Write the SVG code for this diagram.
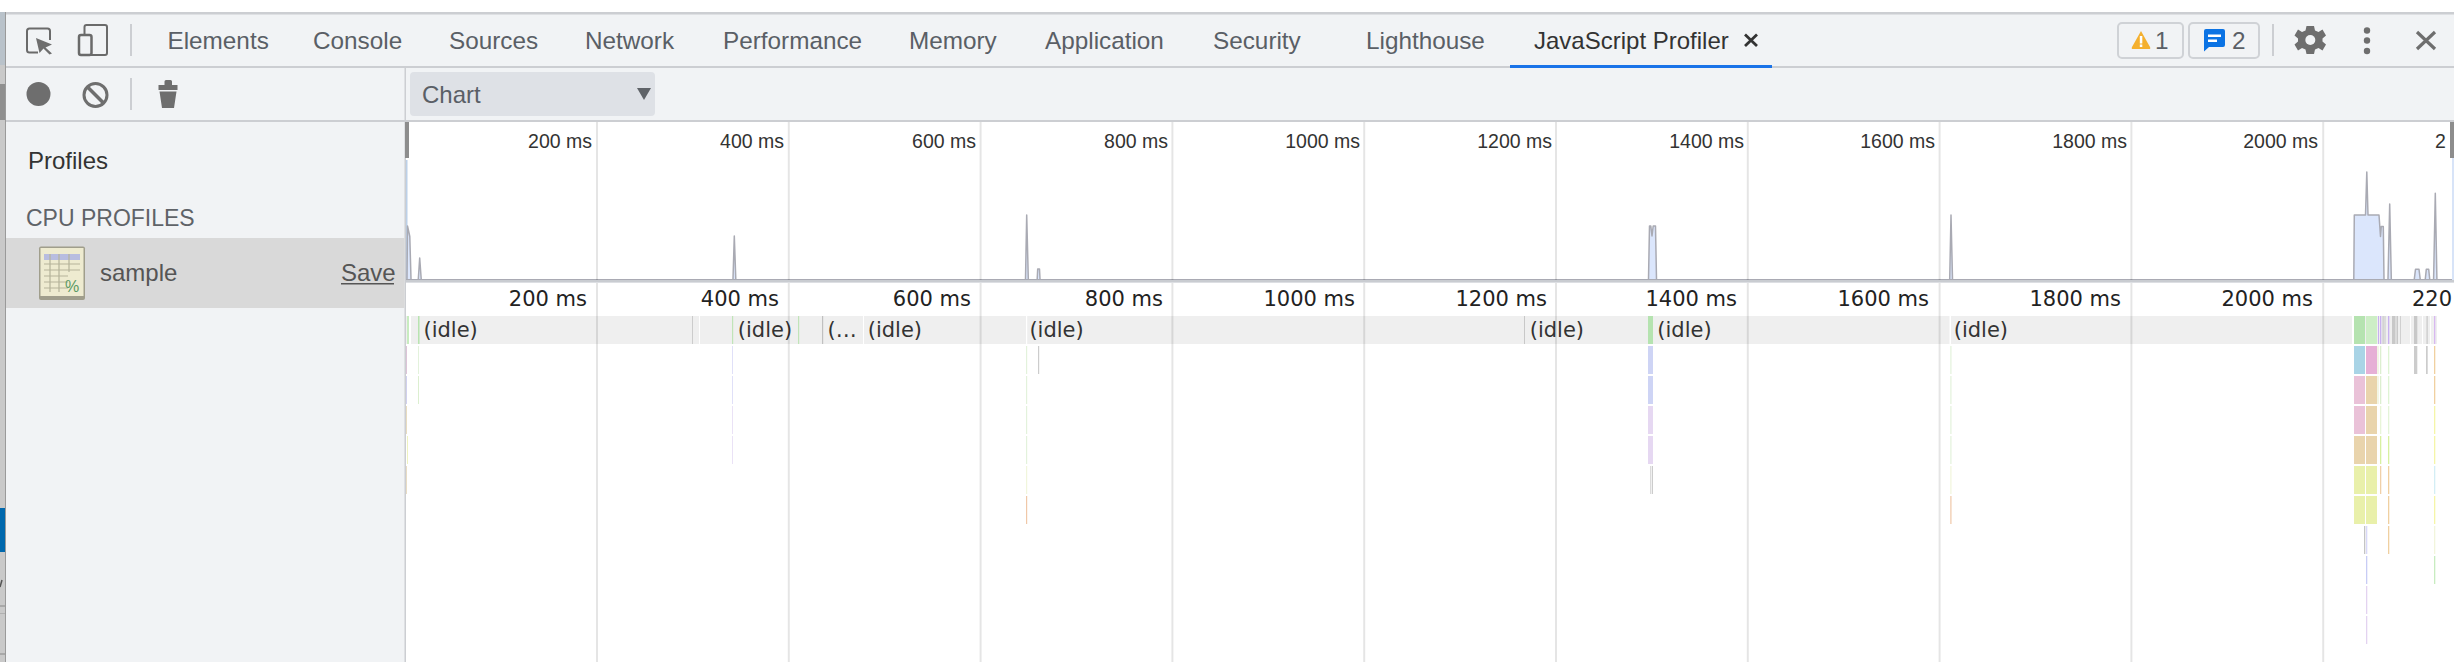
<svg xmlns="http://www.w3.org/2000/svg" width="2454" height="662" viewBox="0 0 2454 662">
<style>
.ui{font-family:"Liberation Sans",Arial,sans-serif}
.tab{font-size:24.3px;fill:#5a5f66}
.hl{font-size:19.5px;fill:#333;text-anchor:end}
.rl{font-family:"DejaVu Sans",sans-serif;font-size:21px;fill:#222;text-anchor:end}
.idle{font-family:"DejaVu Sans",sans-serif;font-size:21px;fill:#333}
.grid{stroke:#000;stroke-opacity:.1;stroke-width:2}
.sep{stroke:#ccced2;stroke-width:2}
.ic{fill:#6e6e6e}
.ov{fill:#dbe6fc;stroke:#a9aab3;stroke-width:1.5;stroke-linejoin:round}
</style>
<rect width="2454" height="662" fill="#fff"/>
<g id="window-edge">
<rect x="0" y="12" width="6" height="53" fill="#b9c2ca"/>
<rect x="0" y="65" width="6" height="597" fill="#c9c9c9"/>
<rect x="0" y="84" width="6" height="36" fill="#8f8f8f"/>
<rect x="0" y="508" width="6" height="44" fill="#0068ad"/>
<rect x="0" y="605" width="6" height="2" fill="#a8a8a8"/>
<rect x="0" y="613" width="6" height="1" fill="#b0b0b0"/>
<rect x="0" y="653" width="6" height="2" fill="#a8a8a8"/>
<path d="M0 587L2 580M4 583" stroke="#555" stroke-width="1.5" fill="none"/>
<rect x="5" y="12" width="1" height="650" fill="#9a9a9a"/>
</g>
<g id="toolbars">
<rect x="6" y="12" width="2448" height="650" fill="#f1f3f5"/>
<rect x="6" y="12" width="2448" height="2.5" fill="#ccced2"/>
<rect x="6" y="66" width="2448" height="2" fill="#ccced2"/>
<rect x="6" y="120" width="2448" height="2" fill="#ccced2"/>
<rect x="404.500" y="68" width="1.500" height="594" fill="#ccced2"/>
</g>
<g id="main-tabs" class="ui">
<path d="M38 52.500H29.500Q27 52.500 27 50V31Q27 28.500 29.500 28.500H47.500Q50 28.500 50 31V40" fill="none" stroke="#6a6a6a" stroke-width="2"/>
<path d="M36 38L52 44.500L45.500 47.500L52 53.500L49.500 54.500L43.500 48.500L39.500 53Z" class="ic"/>
<rect x="84.500" y="25" width="22.500" height="30" rx="2" fill="none" stroke="#6a6a6a" stroke-width="2"/>
<rect x="79" y="35" width="12.500" height="20" rx="2" fill="#f1f3f5" stroke="#6a6a6a" stroke-width="2.500"/>
<line class="sep" x1="131" y1="24" x2="131" y2="56"/>
<text class="tab" x="167.500" y="49">Elements</text>
<text class="tab" x="313" y="49">Console</text>
<text class="tab" x="449" y="49">Sources</text>
<text class="tab" x="585" y="49">Network</text>
<text class="tab" x="723" y="49">Performance</text>
<text class="tab" x="909" y="49">Memory</text>
<text class="tab" x="1045" y="49">Application</text>
<text class="tab" x="1213" y="49">Security</text>
<text class="tab" x="1366" y="49">Lighthouse</text>
<text class="tab" x="1534" y="49" style="fill:#333;font-size:24px">JavaScript Profiler</text>
<path d="M1745 34.500L1757 46M1757 34.500L1745 46" stroke="#333" stroke-width="2.800"/>
<rect x="1510" y="65" width="262" height="3" fill="#1a73e8"/>
</g>
<g id="status-buttons" class="ui">
<rect x="2118" y="23" width="65" height="35" rx="4" fill="#f1f3f5" stroke="#cfd2d6" stroke-width="2"/>
<rect x="2189" y="23" width="70" height="35" rx="4" fill="#f1f3f5" stroke="#cfd2d6" stroke-width="2"/>
<path d="M2141 31L2150 47Q2151 49 2149 49H2133Q2131 49 2132 47Z" fill="#f4b02f"/>
<rect x="2139.800" y="36" width="2.500" height="7.500" fill="#fff"/><rect x="2139.800" y="44.500" width="2.500" height="2.500" fill="#fff"/>
<text class="tab" x="2155" y="49">1</text>
<path d="M2206 29H2223Q2225 29 2225 31V45Q2225 47 2223 47H2209L2204 51.500V31Q2204 29 2206 29Z" fill="#0b73e4"/>
<rect x="2208" y="34.500" width="13" height="2.500" fill="#fff"/><rect x="2208" y="39.500" width="9" height="2.500" fill="#fff"/>
<text class="tab" x="2232" y="49">2</text>
<line class="sep" x1="2273" y1="24" x2="2273" y2="56"/>
<path d="M2306.500 26H2314L2315 30.500L2318.500 32L2322.500 29.500L2326 35.500L2322.500 38.500V41.500L2326 44.500L2322.500 50.500L2318.500 48L2315 49.500L2314 54H2306.500L2305.500 49.500L2302 48L2298 50.500L2294.500 44.500L2298 41.500V38.500L2294.500 35.500L2298 29.500L2302 32L2305.500 30.500Z" class="ic"/>
<circle cx="2310.300" cy="40" r="5" fill="#f1f3f5"/>
<circle cx="2367" cy="30.500" r="3.200" class="ic"/><circle cx="2367" cy="40.500" r="3.200" class="ic"/><circle cx="2367" cy="51" r="3.200" class="ic"/>
<path d="M2417 32L2435 49M2435 32L2417 49" stroke="#6e6e6e" stroke-width="3.200"/>
</g>
<g id="profile-toolbar" class="ui">
<circle cx="38.500" cy="94" r="12" class="ic"/>
<circle cx="95.500" cy="95" r="11.500" fill="none" stroke="#6e6e6e" stroke-width="3"/>
<path d="M87.500 87L103.500 103" stroke="#6e6e6e" stroke-width="3.500"/>
<line class="sep" x1="131" y1="78" x2="131" y2="110"/>
<path d="M158.500 85H164.500V81.500Q164.500 80 166 80H170.500Q172 80 172 81.500V85H177.500V90H158.500ZM159.500 91.500H176.500L174 108H162Z" class="ic"/>
<rect x="410" y="72" width="245" height="44" rx="4" fill="#dee1e6"/>
<text class="tab" x="422" y="103" style="font-size:24px">Chart</text>
<path d="M637 88H651L644 100Z" fill="#5f6368"/>
</g>
<g id="sidebar" class="ui">
<text x="28" y="169" font-size="24" fill="#333">Profiles</text>
<text x="26" y="226" font-size="23" fill="#5f6368">CPU PROFILES</text>
<rect x="6" y="238" width="398.500" height="70" fill="#d9d9d9"/>
<g id="profile-icon">
<rect x="39" y="246.500" width="46" height="53.500" rx="2" fill="#a09e8c"/>
<rect x="40.500" y="248" width="43" height="48" fill="#eeebd0"/>
<rect x="44" y="254" width="36" height="6" fill="#b8bde0"/>
<path d="M44 264H80M44 270H80M44 276H68M44 282H68M44 288H68M50 254V292M59 254V292M69 254V272" stroke="#b5b39a" stroke-width="1.200" fill="none"/>
<text x="65" y="292" font-size="16" fill="#5c9a64">%</text>
</g>
<text x="100" y="281" font-size="24" fill="#555">sample</text>
<text x="341" y="281" font-size="24" fill="#555">Save</text>
<rect x="341" y="283" width="53" height="1.500" fill="#555"/>
</g>
<g id="overview" class="ui">
<rect x="406" y="122" width="2048" height="160" fill="#fff"/>
<rect x="406" y="160" width="1.500" height="120" fill="#bcd0e8"/>
<path class="ov" d="M407 279L407.500 226L409.800 236.500L411 279M418.300 279L419.700 258L421.200 279M733 279L734.300 236L735.800 279M1025.500 279L1026.700 215L1028.300 279M1037.200 279L1037.700 269H1039.500L1040 279M1648.500 279L1649.500 226H1650.800L1652 236L1653.200 226H1655.500L1656.500 279M1949.700 279L1951 215L1952.500 279M2353.800 279L2354.300 215H2365.500L2366.800 172L2368 215H2379L2380.500 236.500L2381.300 226.500H2383.300L2384 279M2388 279L2389.700 204L2391.300 279M2414.300 279L2415.500 269.300H2419L2420.200 279M2425.300 279L2426.300 269.300H2428.700L2429.700 279M2433.600 279L2435.300 193.300L2436.900 279"/>
<rect x="406" y="279" width="2048" height="1.300" fill="#a9aab3"/>
<rect x="406" y="280" width="2048" height="2.500" fill="#c9ccd1"/>
<rect x="405" y="122" width="4" height="36" fill="#8d8d8d"/>
<rect x="2450" y="122" width="4" height="36" fill="#8d8d8d"/>
<rect x="2452" y="158" width="2" height="122" fill="#d8e4f8"/>
<text class="hl" x="592" y="148">200 ms</text>
<text class="hl" x="784" y="148">400 ms</text>
<text class="hl" x="976" y="148">600 ms</text>
<text class="hl" x="1168" y="148">800 ms</text>
<text class="hl" x="1360" y="148">1000 ms</text>
<text class="hl" x="1552" y="148">1200 ms</text>
<text class="hl" x="1744" y="148">1400 ms</text>
<text class="hl" x="1935" y="148">1600 ms</text>
<text class="hl" x="2127" y="148">1800 ms</text>
<text class="hl" x="2318" y="148">2000 ms</text>
<text class="ui" x="2435" y="148" font-size="19.500" fill="#333">2</text>
</g>
<g id="flame-chart">
<rect x="406" y="283" width="2048" height="379" fill="#fff"/>
<g id="ruler">
<text class="rl" x="587" y="306">200 ms</text>
<text class="rl" x="779" y="306">400 ms</text>
<text class="rl" x="971" y="306">600 ms</text>
<text class="rl" x="1163" y="306">800 ms</text>
<text class="rl" x="1355" y="306">1000 ms</text>
<text class="rl" x="1547" y="306">1200 ms</text>
<text class="rl" x="1737" y="306">1400 ms</text>
<text class="rl" x="1929" y="306">1600 ms</text>
<text class="rl" x="2121" y="306">1800 ms</text>
<text class="rl" x="2313" y="306">2000 ms</text>
<text x="2412" y="306" font-family="'DejaVu Sans',sans-serif" font-size="21" fill="#222">220</text>
</g>
<g id="idle-row">
<rect x="406" y="316" width="1946" height="28" fill="#efefef"/>
<rect x="2352.500" y="316" width="1.500" height="28" fill="#fff"/>
<rect x="2354" y="316" width="83" height="28" fill="#efefef"/>
<rect x="407" y="316" width="2" height="28" fill="#c8ecc0"/><rect x="409" y="316" width="2" height="28" fill="#fff"/>
<rect x="418" y="316" width="1.500" height="28" fill="#b8e4b0"/>
<rect x="692" y="316" width="1" height="28" fill="#ccc"/><rect x="699" y="316" width="1" height="28" fill="#fff"/>
<rect x="732" y="316" width="1.200" height="28" fill="#c0e4b8"/>
<rect x="798" y="316" width="1.200" height="28" fill="#c0e4b8"/>
<rect x="822" y="316" width="1.200" height="28" fill="#c0c0c0"/>
<rect x="863" y="316" width="1" height="28" fill="#fff"/>
<rect x="1026" y="316" width="1.200" height="28" fill="#fff"/>
<rect x="1524" y="316" width="1" height="28" fill="#c8c8c8"/>
<rect x="1648" y="316" width="5" height="28" fill="#b5e3b0"/>
<rect x="1949.500" y="316" width="1.500" height="28" fill="#fff"/>
<rect x="2354" y="316" width="11" height="28" fill="#b5e3b0"/><rect x="2366" y="316" width="11" height="28" fill="#cdeec6"/>
<rect x="2378" y="316" width="1" height="28" fill="#c8b0f0"/><rect x="2380" y="316" width="1.300" height="28" fill="#c8b0f0"/>
<rect x="2382.500" y="316" width="1.200" height="28" fill="#c8c8c8"/><rect x="2384.500" y="316" width="1" height="28" fill="#c8c8c8"/>
<rect x="2388" y="316" width="1.300" height="28" fill="#c8b0f0"/>
<rect x="2392" y="316" width="3.500" height="28" fill="#c8c8c8"/><rect x="2396.500" y="316" width="1.500" height="28" fill="#c8c8c8"/><rect x="2400" y="316" width="1" height="28" fill="#d0d0d0"/>
<rect x="2410" y="316" width="1" height="28" fill="#fff"/>
<rect x="2414" y="316" width="3.300" height="28" fill="#c8c8c8"/><rect x="2422" y="316" width="1" height="28" fill="#fff"/>
<rect x="2426.500" y="316" width="1.200" height="28" fill="#c8c8c8"/><rect x="2430" y="316" width="1" height="28" fill="#fff"/>
<rect x="2434" y="316" width="1.300" height="28" fill="#d8b8f0"/>
<text class="idle" x="423.500" y="337">(idle)</text>
<text class="idle" x="737.800" y="337">(idle)</text>
<text class="idle" x="827.600" y="337">(…</text>
<text class="idle" x="867.700" y="337">(idle)</text>
<text class="idle" x="1029.400" y="337">(idle)</text>
<text class="idle" x="1529.700" y="337">(idle)</text>
<text class="idle" x="1657.300" y="337">(idle)</text>
<text class="idle" x="1953.700" y="337">(idle)</text>
</g>
<g id="frames">
<rect x="406" y="346" width="1" height="28" fill="#dcc4d8"/><rect x="406" y="376" width="1" height="28" fill="#d0d0ee"/><rect x="406" y="406" width="1" height="28" fill="#e8dcc0"/><rect x="407" y="436" width="1" height="28" fill="#eef2c0"/><rect x="406" y="466" width="1" height="28" fill="#e8dcc4"/>
<rect x="418" y="346" width="1" height="28" fill="#e3f2dc"/><rect x="418" y="376" width="1" height="28" fill="#dcefd0"/>
<rect x="732" y="346" width="1" height="28" fill="#e0e0f8"/><rect x="732" y="376" width="1" height="28" fill="#e0e0f8"/><rect x="732" y="406" width="1" height="28" fill="#eae2f6"/><rect x="732" y="436" width="1" height="28" fill="#eae2f6"/>
<rect x="1026" y="346" width="1.200" height="28" fill="#e3f2dc"/><rect x="1026" y="376" width="1.200" height="28" fill="#e3f2dc"/><rect x="1026" y="406" width="1.200" height="28" fill="#e3f2dc"/><rect x="1026" y="436" width="1.200" height="28" fill="#e3f2dc"/><rect x="1026" y="466" width="1.200" height="28" fill="#f1f6dc"/><rect x="1026" y="496" width="1.200" height="28" fill="#f0c8a8"/>
<rect x="1038" y="346" width="1.200" height="28" fill="#ccc"/>
<rect x="1648" y="346" width="5" height="28" fill="#ced4f5"/><rect x="1648" y="376" width="5" height="28" fill="#ced4f5"/><rect x="1648" y="406" width="5" height="28" fill="#e6d8f2"/><rect x="1648" y="436" width="5" height="28" fill="#e6d8f2"/><rect x="1650.300" y="466" width="1" height="28" fill="#ccc"/><rect x="1652" y="466" width="1" height="28" fill="#ccc"/>
<rect x="1950.300" y="346" width="1.200" height="28" fill="#e3f2dc"/><rect x="1950.300" y="376" width="1.200" height="28" fill="#e3f2dc"/><rect x="1950.300" y="406" width="1.200" height="28" fill="#e3f2dc"/><rect x="1950.300" y="436" width="1.200" height="28" fill="#e3f2dc"/><rect x="1950.300" y="466" width="1.200" height="28" fill="#f1f6dc"/><rect x="1950.300" y="496" width="1.200" height="28" fill="#f0c8a8"/>
<rect x="2354" y="346" width="11" height="28" fill="#a9d4e6"/><rect x="2366" y="346" width="11" height="28" fill="#e6b0d6"/>
<rect x="2354" y="376" width="11" height="28" fill="#eac2d8"/><rect x="2366" y="376" width="11" height="28" fill="#e9d4ac"/>
<rect x="2354" y="406" width="11" height="28" fill="#eac2d8"/><rect x="2366" y="406" width="11" height="28" fill="#e9d4ac"/>
<rect x="2354" y="436" width="11" height="28" fill="#e9d4ac"/><rect x="2366" y="436" width="11" height="28" fill="#e9d4ac"/>
<rect x="2354" y="466" width="11" height="28" fill="#e9f0aa"/><rect x="2366" y="466" width="11" height="28" fill="#e9f0aa"/>
<rect x="2354" y="496" width="11" height="28" fill="#e9f0aa"/><rect x="2366" y="496" width="11" height="28" fill="#e9f0aa"/>
<rect x="2377.300" y="346" width="1.400" height="28" fill="#eef2dc"/><rect x="2377.300" y="376" width="1.400" height="28" fill="#eef2dc"/>
<rect x="2380" y="346" width="1.300" height="28" fill="#dcefd0"/><rect x="2380" y="376" width="1.300" height="28" fill="#dcefd0"/><rect x="2380" y="406" width="1.300" height="28" fill="#e8f5d8"/><rect x="2380" y="436" width="1.300" height="28" fill="#d8f0a0"/><rect x="2380" y="466" width="1.300" height="28" fill="#f0d0a8"/>
<rect x="2388" y="346" width="1.300" height="28" fill="#dff4d4"/><rect x="2388" y="376" width="1.300" height="28" fill="#dff4d4"/><rect x="2388" y="406" width="1.300" height="28" fill="#e4f4d8"/><rect x="2388" y="436" width="1.300" height="28" fill="#d8f0a0"/><rect x="2388" y="466" width="1.300" height="28" fill="#f0d0a0"/><rect x="2388" y="496" width="1.300" height="28" fill="#f0d0a0"/><rect x="2388" y="526" width="1.300" height="28" fill="#f0d0a0"/>
<rect x="2414" y="346" width="3.300" height="28" fill="#ccc"/><rect x="2426" y="346" width="1.700" height="28" fill="#ccc"/>
<rect x="2434" y="346" width="1.300" height="28" fill="#f0d0a0"/><rect x="2434" y="376" width="1.300" height="28" fill="#f0d0a0"/><rect x="2434" y="406" width="1.300" height="28" fill="#f5f5a8"/><rect x="2434" y="436" width="1.300" height="28" fill="#f5f5a8"/><rect x="2434" y="466" width="1.300" height="28" fill="#d4eef5"/><rect x="2434" y="496" width="1.300" height="28" fill="#f5f5a8"/><rect x="2434" y="526" width="1.300" height="28" fill="#f2f5dc"/><rect x="2434" y="556" width="1.300" height="28" fill="#c8ecc0"/>
<rect x="2364" y="526" width="1.300" height="28" fill="#c4c4c4"/>
<rect x="2366" y="526" width="1.300" height="28" fill="#d8d8f8"/><rect x="2366" y="556" width="1.300" height="28" fill="#c8ccf5"/><rect x="2366" y="586" width="1.300" height="28" fill="#e3d3f0"/><rect x="2366" y="616" width="1.300" height="28" fill="#e3d3f0"/>
</g>
</g>
<g id="grid-lines">
<path class="grid" d="M597 122V158M597 283V662M788.800 122V158M788.800 283V662M980.600 122V158M980.600 283V662M1172.400 122V158M1172.400 283V662M1364.200 122V158M1364.200 283V662M1556 122V158M1556 283V662M1747.800 122V158M1747.800 283V662M1939.600 122V158M1939.600 283V662M2131.400 122V158M2131.400 283V662M2323.200 122V158M2323.200 283V662"/>
<path class="grid" d="M597 158V280M788.800 158V280M980.600 158V280M1172.400 158V280M1364.200 158V280M1556 158V280M1747.800 158V280M1939.600 158V280M2131.400 158V280M2323.200 158V280"/>
</g>
</svg>
